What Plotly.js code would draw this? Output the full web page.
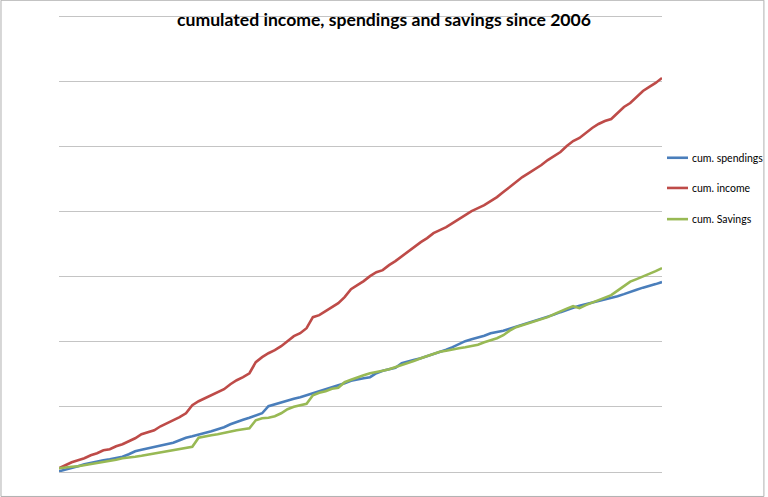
<!DOCTYPE html>
<html>
<head>
<meta charset="utf-8">
<script src="https://cdn.plot.ly/plotly-3.0.1.min.js"></script>
<style>
  html, body { margin: 0; padding: 0; background: #fff; }
  #chart { width: 768px; height: 497px; }
</style>
</head>
<body>
<div id="chart"></div>
<script>
// monthly values since Jan 2006
const spendings = [
  110, 340, 570, 880, 1180, 1420, 1650, 1800, 1950, 2110, 2340, 2720,
  3180, 3420, 3650, 3800, 4030, 4260, 4490, 4880, 5260, 5490, 5720, 5950,
  6260, 6570, 6880, 7340, 7720, 8030, 8340, 8650, 9030, 10110, 10420, 10720,
  10950, 11260, 11490, 11800, 12110, 12340, 12650, 12950, 13260, 13650, 14030, 14260,
  14420, 14570, 15180, 15570, 15800, 16030, 16720, 17030, 17260, 17490, 17800, 18110,
  18490, 18800, 19190, 19650, 20110, 20420, 20650, 20950, 21340, 21490, 21720, 22030,
  22340, 22650, 22950, 23260, 23490, 23800, 24190, 24570, 24950, 25260, 25570, 25800,
  26030, 26260, 26490, 26720, 27030, 27340, 27720, 28030, 28340, 28570, 28880, 29190
];
const income = [
  570, 1030, 1490, 1800, 2110, 2570, 2880, 3340, 3490, 3950, 4260, 4720,
  5180, 5800, 6110, 6420, 7030, 7490, 7950, 8420, 9030, 10260, 10880, 11340,
  11800, 12260, 12720, 13490, 14110, 14570, 15180, 16880, 17650, 18260, 18720, 19340,
  20110, 20880, 21340, 22110, 23800, 24110, 24720, 25340, 25950, 26880, 28110, 28720,
  29340, 30110, 30720, 31030, 31800, 32420, 33180, 33950, 34570, 35340, 35950, 36720,
  37190, 37650, 38260, 38880, 39490, 40110, 40570, 41030, 41650, 42260, 43030, 43800,
  44570, 45340, 45950, 46570, 47190, 47950, 48570, 49190, 50110, 50880, 51340, 52110,
  52880, 53490, 53950, 54260, 55190, 56110, 56720, 57650, 58570, 59190, 59800, 60570
];
const savings = [
  570, 720, 800, 880, 1030, 1180, 1420, 1570, 1720, 1880, 2110, 2180,
  2340, 2490, 2650, 2880, 3030, 3180, 3340, 3490, 3650, 3880, 5260, 5490,
  5650, 5800, 6030, 6180, 6420, 6570, 6720, 7950, 8260, 8340, 8570, 9030,
  9650, 10030, 10260, 10490, 11800, 12180, 12420, 12800, 12950, 13800, 14180, 14570,
  14880, 15180, 15340, 15570, 15800, 16110, 16420, 16720, 17110, 17490, 17800, 18180,
  18490, 18650, 18880, 19030, 19190, 19420, 19570, 19950, 20260, 20570, 21030, 21720,
  22260, 22570, 22880, 23190, 23490, 23800, 24260, 24720, 25110, 25490, 25190, 25650,
  26030, 26420, 26800, 27190, 27880, 28570, 29260, 29650, 30030, 30420, 30880, 31340
];

const seriesNames = ['cum. spendings', 'cum. income', 'cum. Savings'];
const seriesColors = ['#4a7ebb', '#be4b48', '#98b954'];

const months = spendings.map((v, i) =>
  (2006 + Math.floor(i / 12)) + '-' + String(i % 12 + 1).padStart(2, '0'));

const traces = [spendings, income, savings].map((y, k) => ({
  type: 'scatter',
  mode: 'lines',
  name: seriesNames[k],
  x: months,
  y: y,
  line: { color: seriesColors[k], width: 2.6 },
  hoverinfo: 'skip'
}));

// legend drawn by hand so it does not push the plot area to the left
// (plot area: left 59px, width 603px, zero at 471.7px, 455px per 70000)
const legendY = [0.6861, 0.6202, 0.5521];
const legendShapes = seriesNames.map((n, k) => ({
  type: 'line', xref: 'paper', yref: 'paper',
  x0: 1.0083, x1: 1.0431, y0: legendY[k], y1: legendY[k],
  line: { color: seriesColors[k], width: 2.6 }
}));
const legendLabels = seriesNames.map((n, k) => ({
  xref: 'paper', yref: 'paper',
  x: 1.0464, y: legendY[k], xanchor: 'left', yanchor: 'middle',
  text: n, showarrow: false,
  font: { family: 'Lato, "Open Sans", sans-serif', size: 10.5, color: '#000' }
}));

const layout = {
  width: 768,
  height: 497,
  margin: { l: 59, r: 106, t: 14.1, b: 25.3 },
  paper_bgcolor: '#fff',
  plot_bgcolor: '#fff',
  font: { family: 'Lato, "Open Sans", sans-serif', color: '#000' },
  title: {
    text: '<b>cumulated income, spendings and savings since 2006</b>',
    font: { family: 'Lato, "Open Sans", sans-serif', size: 17.6, color: '#000' },
    x: 0.5, xanchor: 'center',
    y: 0.96, yanchor: 'middle'
  },
  xaxis: {
    type: 'category',
    range: [0, months.length - 1],
    showgrid: false, zeroline: false, showline: false,
    showticklabels: false, ticks: ''
  },
  yaxis: {
    range: [0, 70400],
    dtick: 10000,
    showgrid: true, gridcolor: '#c4c4c4', gridwidth: 1,
    zeroline: true, zerolinecolor: '#c4c4c4', zerolinewidth: 1,
    showline: false, showticklabels: false, ticks: ''
  },
  showlegend: false,
  annotations: legendLabels,
  shapes: [{
    type: 'rect', xref: 'paper', yref: 'paper',
    x0: -0.0962, x1: 1.169, y0: -0.0534, y1: 1.03,
    line: { color: '#b0b0b0', width: 1 }
  }].concat(legendShapes)
};

Plotly.newPlot('chart', traces, layout, { displayModeBar: false, staticPlot: true });
</script>
</body>
</html>
